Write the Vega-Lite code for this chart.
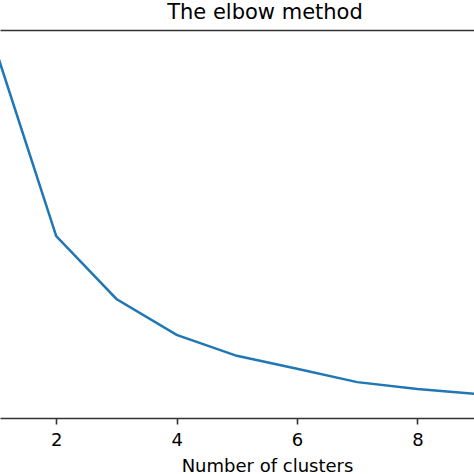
{
  "$schema": "https://vega.github.io/schema/vega-lite/v6.json",
  "autosize": "none",
  "width": 474,
  "height": 388,
  "padding": {"left": 0, "top": 30, "right": 0, "bottom": 56},
  "background": "white",
  "config": {"view": {"stroke": null}, "font": "DejaVu Sans"},
  "title": {"text": "The elbow method", "fontSize": 21, "fontWeight": "normal", "color": "black", "dx": 28, "offset": 7, "font": "DejaVu Sans"},
  "data": {"values": [
    {"k": 1, "wcss": 1000},
    {"k": 2, "wcss": 514},
    {"k": 3, "wcss": 349},
    {"k": 4, "wcss": 255},
    {"k": 5, "wcss": 200},
    {"k": 6, "wcss": 166},
    {"k": 7, "wcss": 131},
    {"k": 8, "wcss": 113},
    {"k": 9, "wcss": 100}
  ]},
  "layer": [
    {
      "mark": {"type": "line", "color": "#1f77b4", "strokeWidth": 2.5, "clip": true},
      "encoding": {
        "x": {"field": "k", "type": "quantitative", "scale": {"domain": [1.066, 8.94], "nice": false, "zero": false},
          "axis": {"orient": "bottom", "values": [2, 4, 6, 8], "grid": false, "domainColor": "#333", "domainWidth": 1.6, "tickColor": "#333", "tickWidth": 1.6, "tickSize": 6, "labelFontSize": 18, "labelColor": "black", "labelPadding": 7, "title": "Number of clusters", "titleFontSize": 18, "titleFontWeight": "normal", "titleColor": "black", "titleX": 267, "titleY": 53, "titleBaseline": "alphabetic"}},
        "y": {"field": "wcss", "type": "quantitative", "scale": {"domain": [37, 1054], "nice": false, "zero": false}, "axis": null}
      }
    },
    {
      "mark": {"type": "line", "opacity": 0},
      "encoding": {
        "x": {"field": "k", "type": "quantitative", "axis": {"orient": "top", "labels": false, "ticks": false, "grid": false, "title": null, "domainColor": "#333", "domainWidth": 1.6}},
        "y": {"field": "wcss", "type": "quantitative"}
      }
    }
  ]
}
